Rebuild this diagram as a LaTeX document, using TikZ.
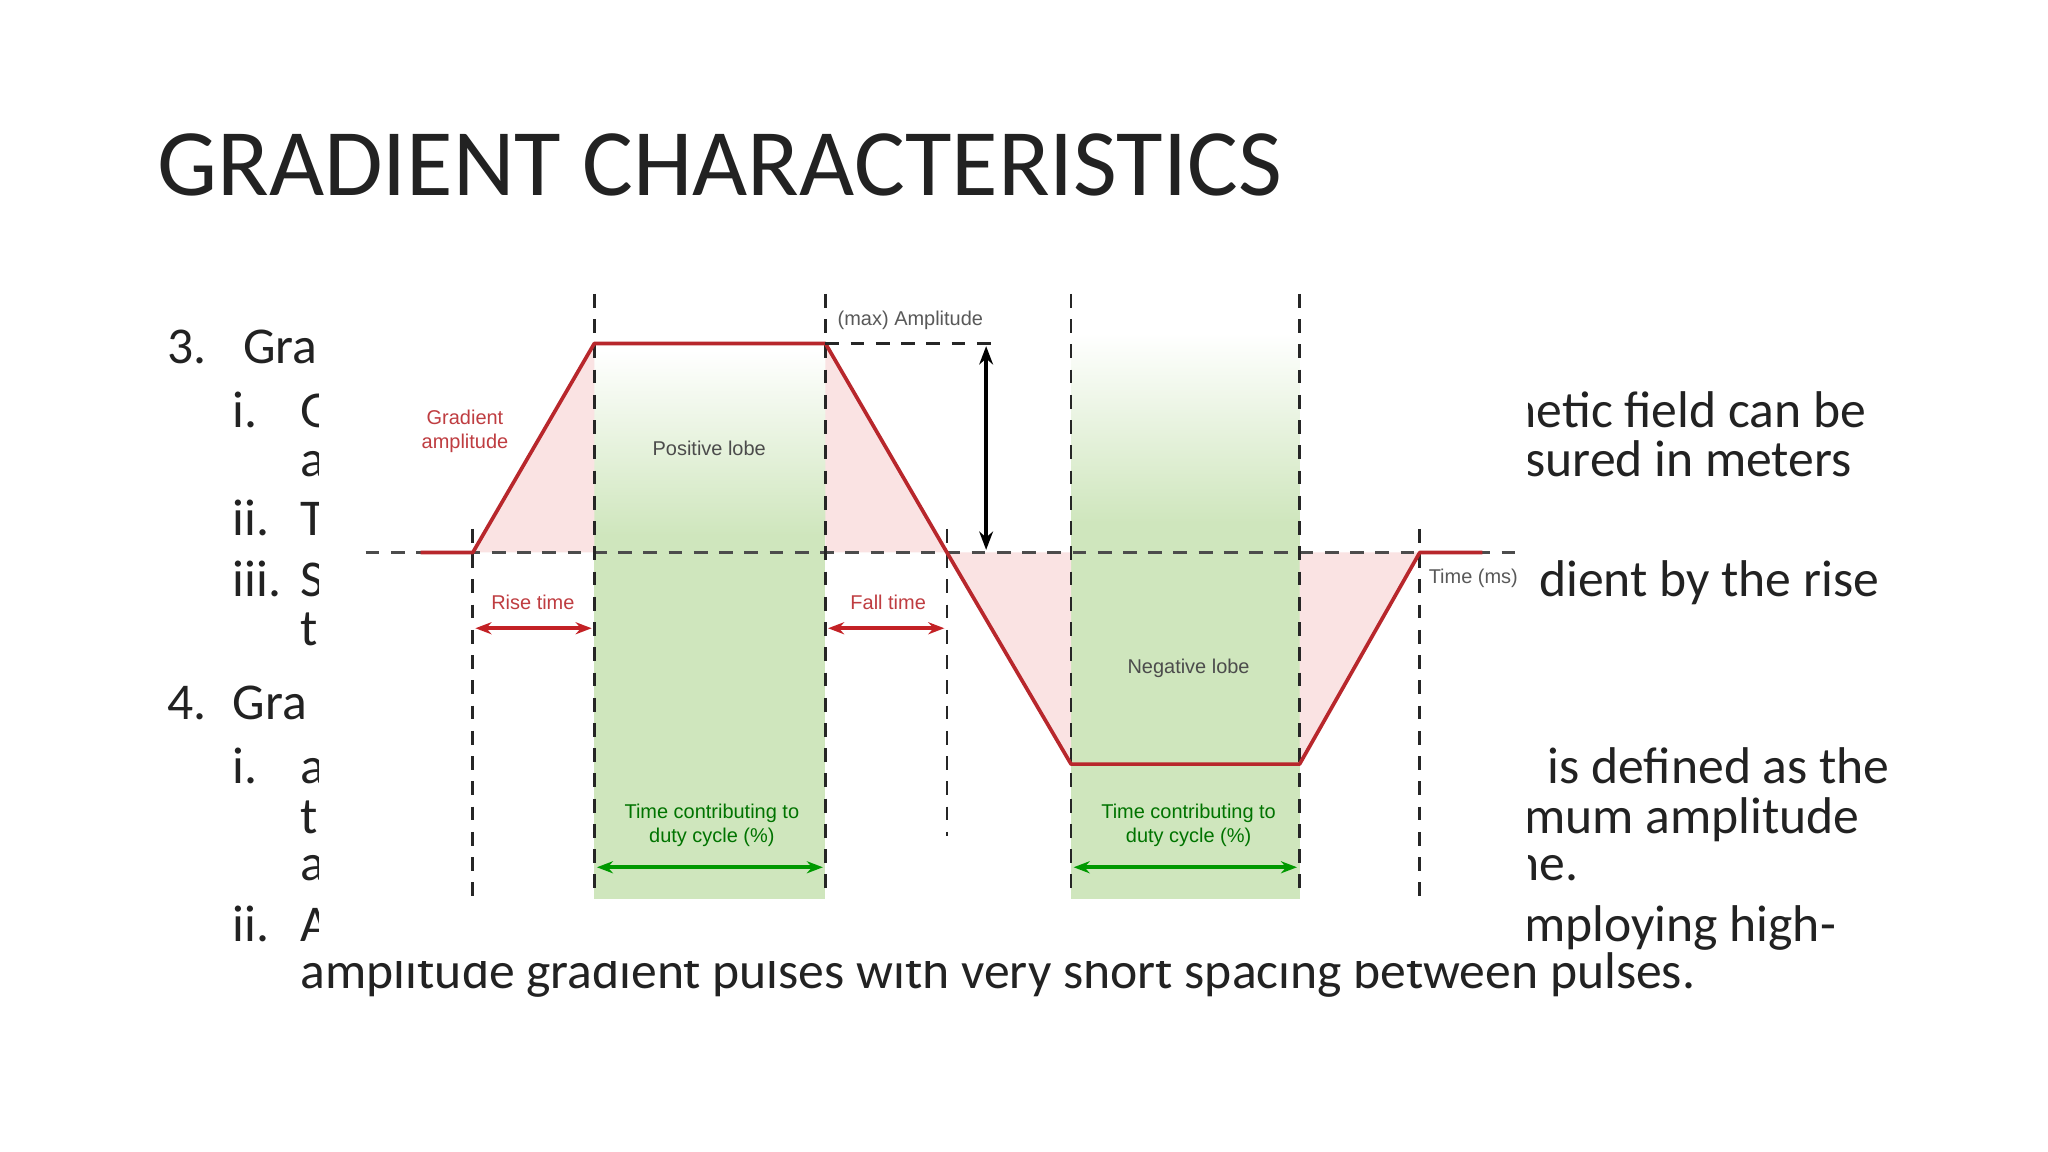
\documentclass[tikz,border=0pt]{standalone}
\usepackage{fontspec}
\setmainfont{Carlito}
\newfontfamily\lab{Liberation Sans}
\usetikzlibrary{arrows.meta}
\definecolor{gr}{HTML}{CFE6BD}
\definecolor{wave}{HTML}{B8272C}
\definecolor{pk}{HTML}{FAE3E3}
\definecolor{txt}{HTML}{222222}
\tikzset{
 body/.style={font=\fontsize{22.5}{27}\selectfont, text=txt, inner sep=0pt},
 vd/.style={dash pattern=on 6pt off 5pt, line width=1.2pt, black!85},
 lbl/.style={font=\lab\fontsize{8.7}{10.5}\selectfont, text=black!65, align=center, inner sep=1pt},
 rlbl/.style={lbl, text=wave!90},
 glbl/.style={lbl, text=green!45!black},
}
\begin{document}
\begin{tikzpicture}[x=0.02cm,y=-0.02cm]
\useasboundingbox (0,0) rectangle (1568,882);
\fill[white] (0,0) rectangle (1568,882);
\node[anchor=base west, font=\fontsize{41.5}{46}\selectfont, text=txt, inner sep=0pt] (title) at (120,150) {GRADIENT CHARACTERISTICS};
% body text (left fragments)
\node[body, anchor=base west] (l1) at (128,278) {3.};
\node[body, anchor=base west] (l1b) at (186,278) {Gra};
\node[body, anchor=base west] (l2) at (178,327) {i.};
\node[body, anchor=base west] (l2b) at (230,327) {G};
\node[body, anchor=base west] (l3) at (230,365) {a};
\node[body, anchor=base west] (l4) at (178,410) {ii.};
\node[body, anchor=base west] (l4b) at (230,410) {T};
\node[body, anchor=base west] (l5) at (178,457) {iii.};
\node[body, anchor=base west] (l5b) at (230,457) {S};
\node[body, anchor=base west] (l6) at (230,494) {t};
\node[body, anchor=base west] (l7) at (128,551) {4.};
\node[body, anchor=base west] (l7b) at (178,551) {Gra};
\node[body, anchor=base west] (l8) at (178,600) {i.};
\node[body, anchor=base west] (l8b) at (230,600) {a};
\node[body, anchor=base west] (l9) at (230,638) {t};
\node[body, anchor=base west] (l10) at (230,674) {a};
\node[body, anchor=base west] (l11) at (178,721) {ii.};
\node[body, anchor=base west] (l11b) at (230,721) {A};
\node[body, anchor=base west] (l12) at (230,757) {amplitude gradient pulses with very short spacing between pulses.};
% right fragments
\node[body, anchor=base east] (r1) at (1429,327) {netic field can be};
\node[body, anchor=base east] (r2) at (1418,365) {sured in meters};
\node[body, anchor=base east] (r3) at (1439,457) {dient by the rise};
\node[body, anchor=base east] (r4) at (1447,600) {is defined as the};
\node[body, anchor=base east] (r5) at (1424,638) {mum amplitude};
\node[body, anchor=base east] (r6) at (1209,674) {ne.};
\node[body, anchor=base east] (r7) at (1406,721) {mploying high-};
% figure panel
\fill[white] (244,222) rectangle (1170,736);
% green lobes
\shade[top color=white, bottom color=gr] (455,268) rectangle (632,410);
\fill[gr] (455,409) rectangle (632,688);
\shade[top color=white, bottom color=gr] (820,255) rectangle (995,400);
\fill[gr] (820,399) rectangle (995,688);
% pink ramps
\fill[pk] (362,423) -- (455,263) -- (455,423) -- cycle;
\fill[pk] (632,263) -- (725,423) -- (632,423) -- cycle;
\fill[pk] (725,423) -- (820,585) -- (820,423) -- cycle;
\fill[pk] (995,423) -- (995,585) -- (1087,423) -- cycle;
% baseline
\draw[vd, black!70] (280,423) -- (1162,423);
% verticals
\coordinate (a1) at (362,405); \coordinate (a2) at (362,688);
\coordinate (b1) at (455,225); \coordinate (b2) at (455,688);
\coordinate (c1) at (632,225); \coordinate (c2) at (632,688);
\coordinate (d1) at (725,405); \coordinate (d2) at (725,640);
\coordinate (e1) at (820,225); \coordinate (e2) at (820,688);
\coordinate (f1) at (995,225); \coordinate (f2) at (995,688);
\coordinate (g1) at (1087,405); \coordinate (g2) at (1087,688);
\foreach \p in {a,b,c,d,e,f,g} \draw[vd] (\p1) -- (\p2);
% waveform
\draw[wave, line width=1.6pt, line join=round] (322,423) -- (362,423) -- (455,263) -- (632,263) -- (725,423) -- (820,585) -- (995,585) -- (1087,423) -- (1135,423);
% amplitude
\coordinate (m1) at (632,263); \coordinate (m2) at (762,263);
\draw[vd] (m1) -- (m2);
\coordinate (ar1) at (755,265); \coordinate (ar2) at (755,421);
\draw[line width=1.6pt, {Stealth[length=8pt]}-{Stealth[length=8pt]}] (ar1) -- (ar2);
% time arrows
\coordinate (rt1) at (364,481); \coordinate (rt2) at (453,481);
\draw[wave!85!red, line width=1.6pt, {Stealth[length=7pt]}-{Stealth[length=7pt]}] (rt1) -- (rt2);
\coordinate (ft1) at (634,481); \coordinate (ft2) at (723,481);
\draw[wave!85!red, line width=1.6pt, {Stealth[length=7pt]}-{Stealth[length=7pt]}] (ft1) -- (ft2);
\coordinate (g1a) at (457,664); \coordinate (g1b) at (630,664);
\draw[green!60!black, line width=1.6pt, {Stealth[length=7pt]}-{Stealth[length=7pt]}] (g1a) -- (g1b);
\coordinate (g2a) at (822,664); \coordinate (g2b) at (993,664);
\draw[green!60!black, line width=1.6pt, {Stealth[length=7pt]}-{Stealth[length=7pt]}] (g2a) -- (g2b);
% labels
\node[lbl] (amp) at (697,245) {(max) Amplitude};
\node[rlbl] (ga) at (356,330) {Gradient\\amplitude};
\node[lbl, text=black!70] (pl) at (543,343) {Positive lobe};
\node[rlbl] (rise) at (408,461) {Rise time};
\node[rlbl] (fall) at (680,461) {Fall time};
\node[lbl] (tm) at (1128,443) {Time (ms)};
\node[lbl, text=black!70] (nl) at (910,512) {Negative lobe};
\node[glbl] (d1) at (545,632) {Time contributing to\\duty cycle (\%)};
\node[glbl] (d2) at (910,632) {Time contributing to\\duty cycle (\%)};
\end{tikzpicture}
\end{document}
